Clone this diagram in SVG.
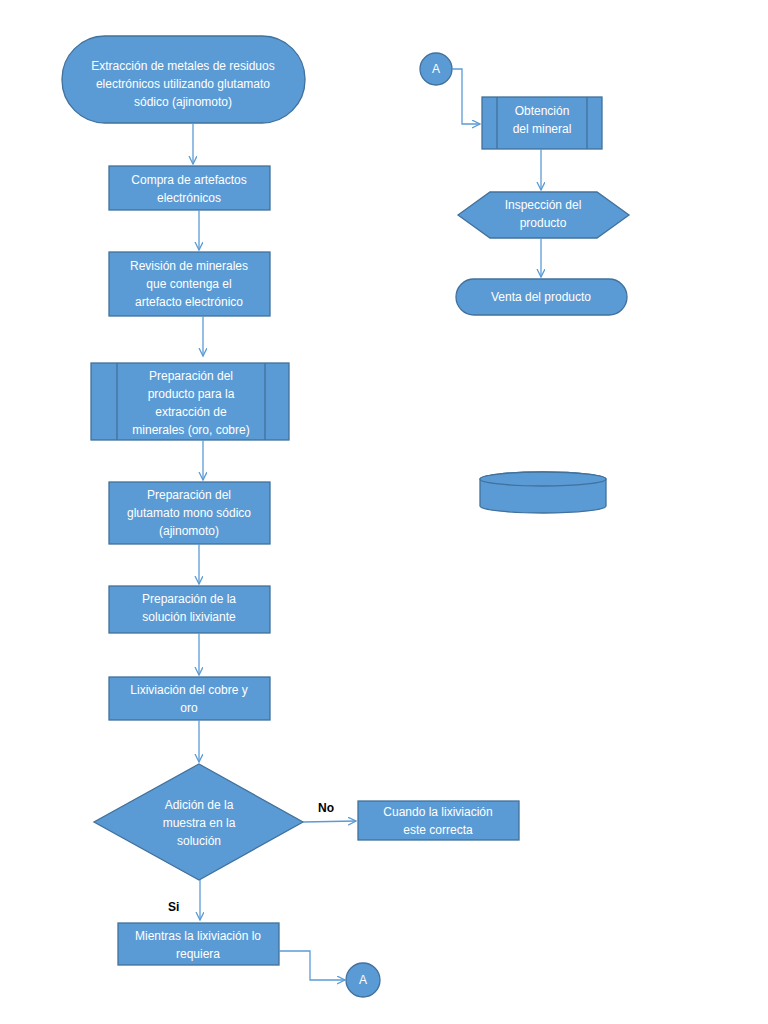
<svg xmlns="http://www.w3.org/2000/svg" width="768" height="1024" viewBox="0 0 768 1024">
<style>
.s{fill:#5B9BD5;stroke:#41719C;stroke-width:1.3}
.t{fill:#fff;font-family:"Liberation Sans",Arial,sans-serif;font-size:12px;text-anchor:middle}
.c{fill:none;stroke:#5B9BD5;stroke-width:1.3}
.l{fill:#000;font-family:"Liberation Sans",Arial,sans-serif;font-size:12px;font-weight:bold}
</style>
<defs><marker id="a" markerWidth="10" markerHeight="10" refX="8" refY="4" orient="auto" markerUnits="userSpaceOnUse"><path d="M0,0 L8,4 L0,8" fill="none" stroke="#5B9BD5" stroke-width="1.3"/></marker></defs>
<rect width="768" height="1024" fill="#fff"/>
<g id="n1"><rect class="s" x="62" y="36" width="243" height="87" rx="43"/><text class="t" x="183" y="70">Extracción de metales de residuos</text><text class="t" x="183" y="88">electrónicos utilizando glutamato</text><text class="t" x="183" y="106">sódico (ajinomoto)</text></g>
<g id="n2"><rect class="s" x="109" y="166" width="161" height="44"/><text class="t" x="189" y="184">Compra de artefactos</text><text class="t" x="189" y="202">electrónicos</text></g>
<g id="n3"><rect class="s" x="109" y="252" width="161" height="64"/><text class="t" x="189" y="270">Revisión de minerales</text><text class="t" x="189" y="288">que contenga el</text><text class="t" x="189" y="306">artefacto electrónico</text></g>
<g id="n4"><rect class="s" x="91" y="363" width="198" height="77"/><line class="s" x1="117" y1="363" x2="117" y2="440"/><line class="s" x1="265" y1="363" x2="265" y2="440"/><text class="t" x="191" y="380">Preparación del</text><text class="t" x="191" y="398">producto para la</text><text class="t" x="191" y="416">extracción de</text><text class="t" x="191" y="434">minerales (oro, cobre)</text></g>
<g id="n5"><rect class="s" x="109" y="482" width="161" height="62"/><text class="t" x="189" y="499">Preparación del</text><text class="t" x="189" y="517">glutamato mono sódico</text><text class="t" x="189" y="535">(ajinomoto)</text></g>
<g id="n6"><rect class="s" x="109" y="586" width="161" height="47"/><text class="t" x="189" y="603">Preparación de la</text><text class="t" x="189" y="621">solución lixiviante</text></g>
<g id="n7"><rect class="s" x="109" y="677" width="161" height="43"/><text class="t" x="189" y="694">Lixiviación del cobre y</text><text class="t" x="189" y="712">oro</text></g>
<g id="n8"><polygon class="s" points="199,764 303,822 199,880 94,822"/><text class="t" x="199" y="809">Adición de la</text><text class="t" x="199" y="827">muestra en la</text><text class="t" x="199" y="845">solución</text></g>
<g id="n9"><rect class="s" x="358" y="801" width="161" height="39"/><text class="t" x="438" y="816">Cuando la lixiviación</text><text class="t" x="438" y="834">este correcta</text></g>
<g id="n10"><rect class="s" x="118" y="923" width="161" height="42"/><text class="t" x="198" y="940">Mientras la lixiviación lo</text><text class="t" x="198" y="958">requiera</text></g>
<g id="n11"><circle class="s" cx="363" cy="980" r="17"/><text class="t" x="363" y="984">A</text></g>
<g id="n12"><circle class="s" cx="436" cy="69" r="16"/><text class="t" x="436" y="73">A</text></g>
<g id="n13"><rect class="s" x="482" y="97" width="120" height="52"/><line class="s" x1="497" y1="97" x2="497" y2="149"/><line class="s" x1="587" y1="97" x2="587" y2="149"/><text class="t" x="542" y="115">Obtención</text><text class="t" x="542" y="133">del mineral</text></g>
<g id="n14"><polygon class="s" points="458,215 490,192 597,192 629,215 597,238 490,238"/><text class="t" x="543" y="209">Inspección del</text><text class="t" x="543" y="227">producto</text></g>
<g id="n15"><rect class="s" x="456" y="279" width="171" height="36" rx="18"/><text class="t" x="541" y="301">Venta del producto</text></g>
<g id="n16"><path class="s" d="M480,479 V506 A63,7 0 0 0 606,506 V479 A63,7 0 0 0 480,479 Z"/><ellipse class="s" cx="543" cy="479" rx="63" ry="7"/></g>
<g id="connectors">
<path class="c" marker-end="url(#a)" d="M193,123 V164"/>
<path class="c" marker-end="url(#a)" d="M199,210 V250"/>
<path class="c" marker-end="url(#a)" d="M203,316 V356"/>
<path class="c" marker-end="url(#a)" d="M203,440 V480"/>
<path class="c" marker-end="url(#a)" d="M199,544 V584"/>
<path class="c" marker-end="url(#a)" d="M199,633 V675"/>
<path class="c" marker-end="url(#a)" d="M199,720 V762"/>
<path class="c" marker-end="url(#a)" d="M303,822 L356,821"/>
<path class="c" marker-end="url(#a)" d="M200,880 V920"/>
<path class="c" marker-end="url(#a)" d="M279,951 H310 V980 H345"/>
<path class="c" marker-end="url(#a)" d="M452,69 H462 V124 H480"/>
<path class="c" marker-end="url(#a)" d="M541,149 V190"/>
<path class="c" marker-end="url(#a)" d="M541,238 V277"/>
<text class="l" x="318" y="812">No</text>
<text class="l" x="168" y="911">Si</text>
</g>
</svg>
